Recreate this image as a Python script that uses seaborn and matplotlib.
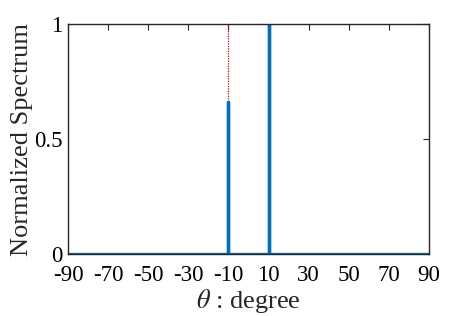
import matplotlib
matplotlib.use("Agg")
import matplotlib.pyplot as plt
import seaborn as sns
import pandas as pd

theta = [-90, -10, -10, -10, 10, 10, 10, 90]
spectrum = [0, 0, 0.66, 0, 0, 1.0, 0, 0]
true_doa = [-10]
true_height = [1.0]
xticks = [-90, -70, -50, -30, -10, 10, 30, 50, 70, 90]
yticks = [0, 0.5, 1]
ytick_labels = ["0", "0.5", "1"]

sns.set_style("white")
plt.rcParams["font.family"] = ["Liberation Serif", "DejaVu Serif"]
plt.rcParams["mathtext.fontset"] = "stix"

fig = plt.figure(figsize=(4.74, 3.16), dpi=100)
ax = fig.add_axes([68 / 474, 1 - 254 / 316, (429 - 68) / 474, (254 - 24) / 316])

df = pd.DataFrame({"theta": theta, "spectrum": spectrum})
for d, h in zip(true_doa, true_height):
    ax.plot([d, d], [0, h], color="red", linestyle=(0, (1, 1)), linewidth=0.9, zorder=1)
sns.lineplot(data=df, x="theta", y="spectrum", ax=ax, color="#0072BD", linewidth=2.4,
             sort=False, estimator=None, zorder=2)

ax.set_xlim(-90, 90)
ax.set_ylim(0, 1)
ax.set_xticks(xticks)
ax.set_xticklabels([str(t) for t in xticks])
ax.set_yticks(yticks)
ax.set_yticklabels(ytick_labels)
ax.tick_params(direction="in", length=4, width=0.8, top=True, right=True,
               labelsize=16.5, colors="#262626", labelcolor="black")
ax.tick_params(axis="x", pad=8)
ax.tick_params(axis="y", pad=4)
for s in ax.spines.values():
    s.set_color("#262626")
    s.set_linewidth(1.0)
ax.set_xlabel(r"$\theta$ : degree", fontsize=19, labelpad=0.5)
ax.set_ylabel("Normalized Spectrum", fontsize=19, labelpad=1)

fig.savefig("out.png", dpi=100)
